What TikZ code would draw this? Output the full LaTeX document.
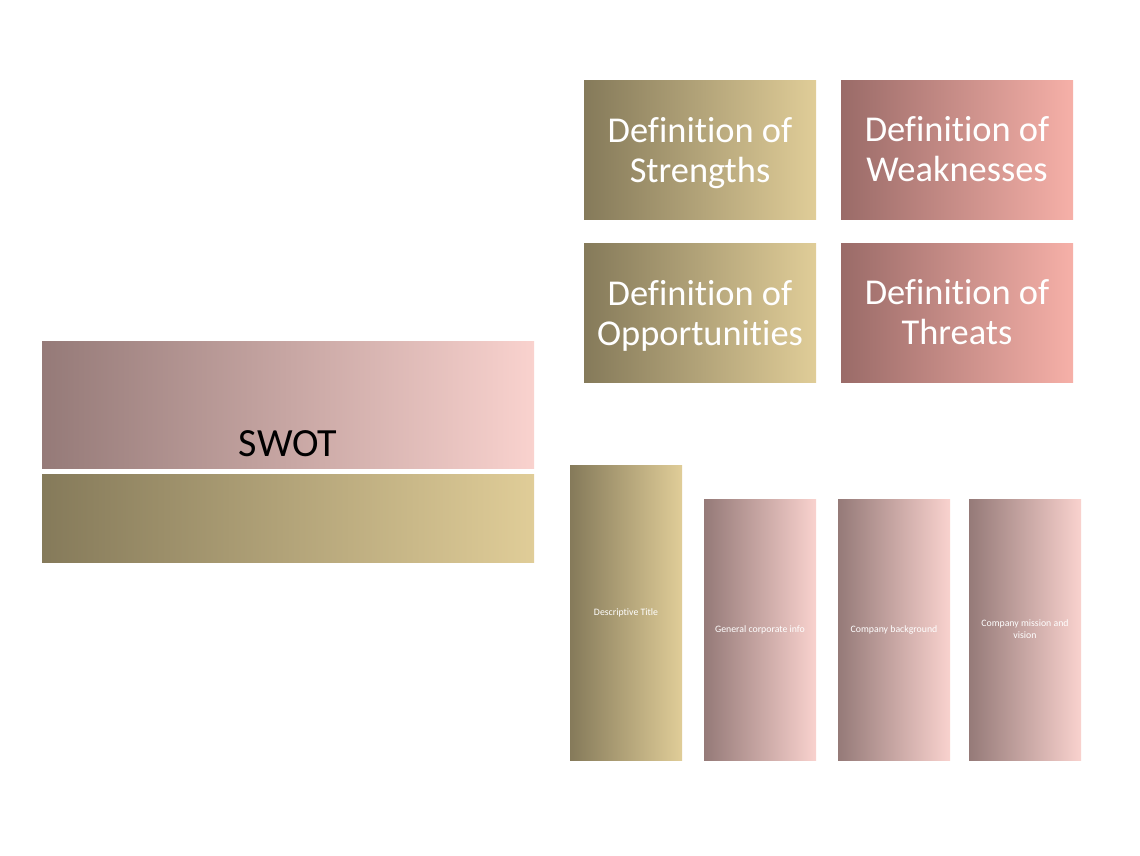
\documentclass[tikz,border=0pt]{standalone}
\usepackage{fontspec}
\setmainfont[Ligatures=NoCommon]{Carlito}
\definecolor{goldL}{HTML}{857A5A}
\definecolor{goldR}{HTML}{E0CD98}
\definecolor{roseL}{HTML}{957A78}
\definecolor{roseR}{HTML}{F9D2CE}
\definecolor{redL}{HTML}{9A6B68}
\definecolor{redR}{HTML}{F6B0A8}
\newcommand{\nodepth}[1]{\raisebox{0pt}[\height][0pt]{#1}}
\tikzset{
  box/.style={anchor=north west, inner sep=0pt, outer sep=0pt, draw=none, align=center, text=white},
  gold/.style={box, left color=goldL, right color=goldR},
  rose/.style={box, left color=roseL, right color=roseR},
  redbox/.style={box, left color=redL, right color=redR},
  big/.style={font=\fontsize{36.4}{40}\selectfont},
  small/.style={font=\fontsize{9.8}{12}\selectfont},
}
\begin{document}
\begin{tikzpicture}[x=1pt,y=-1pt]
\useasboundingbox[fill=white] (0,0) rectangle (1140,855);
% SWOT bars
\node[rose, minimum width=492pt, minimum height=127pt] (swot) at (42,341) {};
\node[anchor=base, inner sep=0pt, text=black, font=\fontsize{40}{48}\selectfont] (swottext) at (288,456) {SWOT};
\node[gold, minimum width=492pt, minimum height=88pt] (swotb) at (42,474) {};
% Definitions
\node[gold, big, minimum width=232pt, minimum height=139pt] (str) at (584,80) {Definition of\\\nodepth{Strengths}};
\node[redbox, big, minimum width=232pt, minimum height=139pt] (wea) at (841,80) {Definition of\\Weaknesses};
\node[gold, big, minimum width=232pt, minimum height=139pt] (opp) at (584,243) {Definition of\\\nodepth{Opportunities}};
\node[redbox, big, minimum width=232pt, minimum height=139pt] (thr) at (841,243) {Definition of\\Threats};
% Columns
\node[gold, small, minimum width=112pt, minimum height=295pt] (desc) at (570,465) {Descriptive Title};
\node[rose, small, minimum width=112pt, minimum height=261pt] (gen) at (704,499) {General corporate info};
\node[rose, small, minimum width=112pt, minimum height=261pt] (bg) at (838,499) {Company background};
\node[rose, small, minimum width=112pt, minimum height=261pt] (mis) at (969,499) {Company mission and\\vision};
\end{tikzpicture}
\end{document}
